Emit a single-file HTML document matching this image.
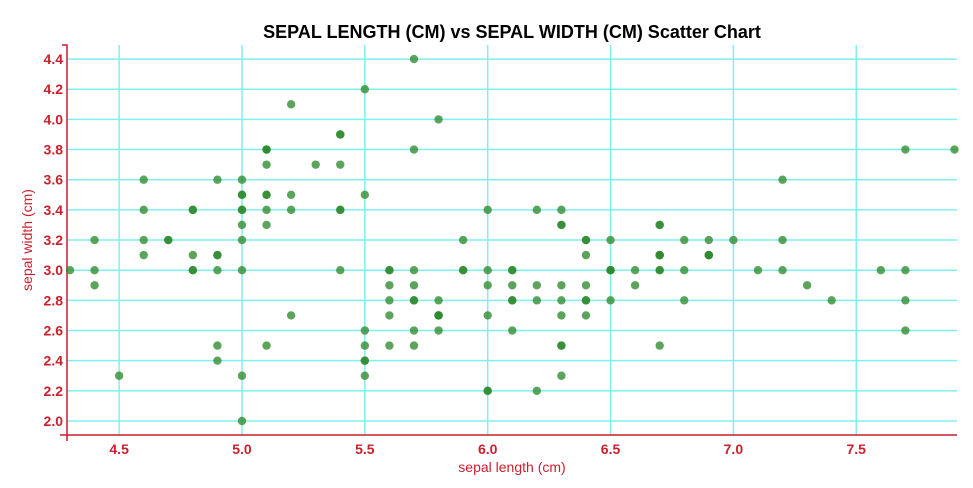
<!DOCTYPE html>
<html><head><meta charset="utf-8"><style>
body{margin:0;background:#fff;font-family:"Liberation Sans",sans-serif}
svg text{font-family:"Liberation Sans",sans-serif}
</style></head><body>
<svg id="chart" width="973" height="483">
<text x="512" y="38" text-anchor="middle" font-size="18" font-weight="bold" fill="#000">SEPAL LENGTH (CM) vs SEPAL WIDTH (CM) Scatter Chart</text>
<g id="grid"></g><g id="axes"></g><g id="points"></g>
<text x="512" y="472" text-anchor="middle" font-size="14" fill="#cc1f2d">sepal length (cm)</text>
<text transform="translate(32,240) rotate(-90)" text-anchor="middle" font-size="14" fill="#cc1f2d">sepal width (cm)</text>
</svg>
<script>
const sepalLength=[5.1,4.9,4.7,4.6,5.0,5.4,4.6,5.0,4.4,4.9,5.4,4.8,4.8,4.3,5.8,5.7,5.4,5.1,5.7,5.1,5.4,5.1,4.6,5.1,4.8,5.0,5.0,5.2,5.2,4.7,4.8,5.4,5.2,5.5,4.9,5.0,5.5,4.9,4.4,5.1,5.0,4.5,4.4,5.0,5.1,4.8,5.1,4.6,5.3,5.0,
7.0,6.4,6.9,5.5,6.5,5.7,6.3,4.9,6.6,5.2,5.0,5.9,6.0,6.1,5.6,6.7,5.6,5.8,6.2,5.6,5.9,6.1,6.3,6.1,6.4,6.6,6.8,6.7,6.0,5.7,5.5,5.5,5.8,6.0,5.4,6.0,6.7,6.3,5.6,5.5,5.5,6.1,5.8,5.0,5.6,5.7,5.7,6.2,5.1,5.7,
6.3,5.8,7.1,6.3,6.5,7.6,4.9,7.3,6.7,7.2,6.5,6.4,6.8,5.7,5.8,6.4,6.5,7.7,7.7,6.0,6.9,5.6,7.7,6.3,6.7,7.2,6.2,6.1,6.4,7.2,7.4,7.9,6.4,6.3,6.1,7.7,6.3,6.4,6.0,6.9,6.7,6.9,5.8,6.8,6.7,6.7,6.3,6.5,6.2,5.9];
const sepalWidth=[3.5,3.0,3.2,3.1,3.6,3.9,3.4,3.4,2.9,3.1,3.7,3.4,3.0,3.0,4.0,4.4,3.9,3.5,3.8,3.8,3.4,3.7,3.6,3.3,3.4,3.0,3.4,3.5,3.4,3.2,3.1,3.4,4.1,4.2,3.1,3.2,3.5,3.6,3.0,3.4,3.5,2.3,3.2,3.5,3.8,3.0,3.8,3.2,3.7,3.3,
3.2,3.2,3.1,2.3,2.8,2.8,3.3,2.4,2.9,2.7,2.0,3.0,2.2,2.9,2.9,3.1,3.0,2.7,2.2,2.5,3.2,2.8,2.5,2.8,2.9,3.0,2.8,3.0,2.9,2.6,2.4,2.4,2.7,2.7,3.0,3.4,3.1,2.3,3.0,2.5,2.6,3.0,2.6,2.3,2.7,3.0,2.9,2.9,2.5,2.8,
3.3,2.7,3.0,2.9,3.0,3.0,2.5,2.9,2.5,3.6,3.2,2.7,3.0,2.5,2.8,3.2,3.0,3.8,2.6,2.2,3.2,2.8,2.8,2.7,3.3,3.2,2.8,3.0,2.8,3.0,2.8,3.8,2.8,2.8,2.6,3.0,3.4,3.1,3.0,3.1,3.1,3.1,2.7,3.2,3.3,3.0,2.5,3.0,3.4,3.0];
const xTicks=["4.5","5.0","5.5","6.0","6.5","7.0","7.5"];
const yTicks=["2.0","2.2","2.4","2.6","2.8","3.0","3.2","3.4","3.6","3.8","4.0","4.2","4.4"];
const NS="http://www.w3.org/2000/svg";
const xS=v=>70+(v-4.3)*245.7;
const yS=v=>421-(v-2.0)*150.8;
function mk(t,a,p){const e=document.createElementNS(NS,t);for(const k in a)e.setAttribute(k,a[k]);p.appendChild(e);return e;}
const grid=document.getElementById('grid'),axes=document.getElementById('axes'),pts=document.getElementById('points');
xTicks.forEach(t=>{const x=xS(+t);
 const l=mk('line',{x1:x,x2:x,y1:45,y2:435,stroke:'#7ff0f0','stroke-width':1.5},grid);
 
 
 const tx=mk('text',{x:x,y:454,'text-anchor':'middle','font-size':14,'font-weight':'bold',fill:'#cc1f2d'},axes);tx.textContent=t;
 
 
});
yTicks.forEach(t=>{const y=yS(+t);
 const l=mk('line',{x1:67,x2:957,y1:y,y2:y,stroke:'#7ff0f0','stroke-width':1.5},grid);
 
 
 const tx=mk('text',{x:63,y:y+5,'text-anchor':'end','font-size':14,'font-weight':'bold',fill:'#cc1f2d'},axes);tx.textContent=t;
 
 
});
const ya=mk('path',{d:'M62,45H67V436',fill:'none',stroke:'#cc1f2d','stroke-width':1.5},axes);


const xa=mk('path',{d:'M60,435H957M67,435V441',fill:'none',stroke:'#cc1f2d','stroke-width':1.5},axes);


sepalLength.forEach((v,i)=>{
 const c=mk('circle',{cx:xS(v),cy:yS(sepalWidth[i]),r:4.2,fill:'#2e8b2e','fill-opacity':0.78},pts);
 
 
});
</script>
</body></html>
